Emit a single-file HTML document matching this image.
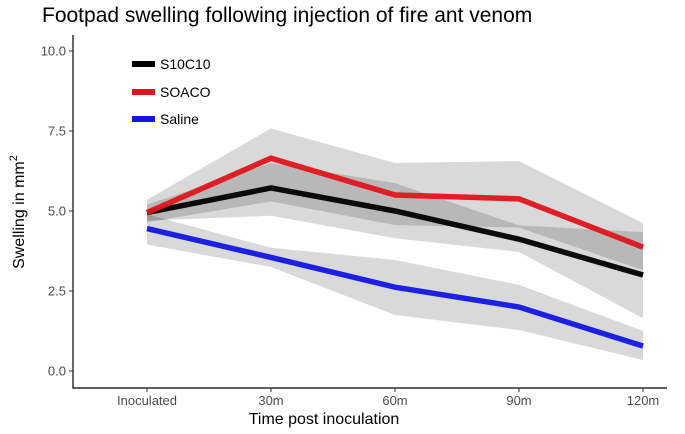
<!DOCTYPE html>
<html><head><meta charset="utf-8"><style>
body{margin:0;background:#fff;}
svg{display:block;font-family:"Liberation Sans",Arial,sans-serif;}
</style></head><body>
<svg id="chart" width="685" height="434">
<text x="42" y="22" font-size="21" fill="#000">Footpad swelling following injection of fire ant venom</text>
<g id="ribbons"></g>
<g id="lines"></g>
<g id="axes"></g>
<text x="324" y="424" font-size="16" text-anchor="middle">Time post inoculation</text>
<text transform="translate(24,212) rotate(-90)" font-size="16" text-anchor="middle">Swelling in mm<tspan font-size="11" dy="-7">2</tspan></text>
<g>
<line x1="132" y1="64" x2="155" y2="64" stroke="#000" stroke-width="6"/>
<text x="160" y="69" font-size="14">S10C10</text>
<line x1="132" y1="92" x2="155" y2="92" stroke="#e0141c" stroke-width="6"/>
<text x="160" y="97" font-size="14">SOACO</text>
<line x1="132" y1="119" x2="155" y2="119" stroke="#1216e0" stroke-width="6"/>
<text x="160" y="124" font-size="14">Saline</text>
</g>
</svg>
<script>
const categories = ["Inoculated","30m","60m","90m","120m"];
const yTicks = [0,2.5,5,7.5,10];
const yTickLabels = ["0.0","2.5","5.0","7.5","10.0"];
const seriesNames = ["S10C10","SOACO","Saline"];
const s10c10 = [4.95,5.72,5.0,4.12,3.0];
const s10c10Lo = [4.7,4.85,4.15,3.72,1.65];
const s10c10Hi = [5.2,6.5,5.87,4.55,4.34];
const soaco = [4.95,6.65,5.5,5.38,3.87];
const soacoLo = [4.65,5.3,4.56,4.48,3.15];
const soacoHi = [5.35,7.58,6.5,6.56,4.62];
const saline = [4.45,3.55,2.62,2.0,0.78];
const salineLo = [3.95,3.25,1.75,1.28,0.34];
const salineHi = [4.9,3.85,3.47,2.69,1.25];

const NS="http://www.w3.org/2000/svg";
const x = i => 147 + i*124;
const y = v => 371 - v*32;
function mk(tag, attrs, parent){const e=document.createElementNS(NS,tag);for(const k in attrs)e.setAttribute(k,attrs[k]);parent.appendChild(e);return e;}
const rib=document.getElementById('ribbons'), ln=document.getElementById('lines'), ax=document.getElementById('axes');
const groups=[["s10c10",s10c10,s10c10Lo,s10c10Hi,"#000"],["soaco",soaco,soacoLo,soacoHi,"#e0141c"],["saline",saline,salineLo,salineHi,"#1216e0"]];
groups.forEach(g=>{
  const pts=g[3].map((v,i)=>x(i)+","+y(v)).concat(g[2].map((v,i)=>[i,v]).reverse().map(p=>x(p[0])+","+y(p[1])));
  const p=mk('polygon',{points:pts.join(' '),fill:'#000','fill-opacity':'0.15'},rib);
  
  
});
groups.forEach(g=>{
  const l=mk('polyline',{points:g[1].map((v,i)=>x(i)+","+y(v)).join(' '),fill:'none',stroke:g[4],'stroke-width':'5.5','stroke-linejoin':'miter','stroke-opacity':'0.95'},ln);
  
  
});
const ya=mk('line',{x1:73,y1:35,x2:73,y2:388,stroke:'#000','stroke-width':1.2},ax);


const xa=mk('line',{x1:72.4,y1:388,x2:667,y2:388,stroke:'#000','stroke-width':1.2},ax);


yTicks.forEach((t,i)=>{
  mk('line',{x1:69,y1:y(t),x2:73,y2:y(t),stroke:'#333'},ax);
  const tx=mk('text',{x:66,y:y(t)+4.5,'font-size':13,fill:'#4d4d4d','text-anchor':'end'},ax);
  tx.textContent=yTickLabels[i];
  
  
});
categories.forEach((c,i)=>{
  mk('line',{x1:x(i),y1:388,x2:x(i),y2:392,stroke:'#333'},ax);
  const tx=mk('text',{x:x(i),y:405,'font-size':13,fill:'#4d4d4d','text-anchor':'middle'},ax);
  tx.textContent=c;
  
  
});
</script>
</body></html>
